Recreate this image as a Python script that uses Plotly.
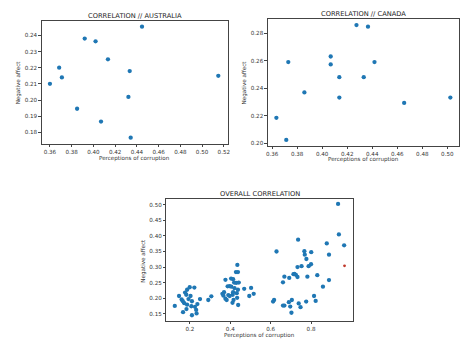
import plotly.graph_objects as go

# ---- data ----
aus_corruption = [0.360, 0.3685, 0.371, 0.385, 0.392, 0.402, 0.407, 0.4134, 0.4322, 0.4334, 0.4343, 0.4447, 0.5149]
aus_negative = [0.210, 0.220, 0.214, 0.1946, 0.238, 0.2363, 0.1867, 0.2252, 0.2019, 0.2179, 0.1767, 0.2454, 0.215]

can_corruption = [0.3634, 0.3713, 0.3729, 0.3858, 0.4068, 0.4068, 0.4137, 0.4137, 0.4274, 0.4366, 0.4332, 0.4418, 0.4655, 0.5024]
can_negative = [0.2185, 0.2024, 0.2591, 0.2370, 0.2632, 0.2574, 0.2481, 0.2333, 0.2861, 0.2849, 0.2481, 0.2591, 0.2294, 0.2333]

all_corruption = [
    0.125, 0.146, 0.159, 0.165, 0.176, 0.182, 0.186, 0.199, 0.203, 0.193, 0.172, 0.186, 0.210,
    0.207, 0.183, 0.166, 0.210, 0.222, 0.225, 0.231, 0.233, 0.237, 0.250, 0.291, 0.306,
    0.376, 0.404, 0.414, 0.428, 0.438, 0.435, 0.419, 0.429, 0.442, 0.387, 0.397, 0.405, 0.421,
    0.438, 0.369, 0.361, 0.366, 0.414, 0.412, 0.390, 0.397, 0.432, 0.376, 0.382, 0.416, 0.434,
    0.439, 0.411, 0.469, 0.503, 0.494, 0.516,
    0.629, 0.612, 0.617, 0.661, 0.668, 0.690, 0.705, 0.703, 0.697, 0.739, 0.748, 0.776, 0.815,
    0.823, 0.661, 0.668, 0.692, 0.713, 0.718, 0.725, 0.733, 0.736, 0.767, 0.769, 0.801, 0.777,
    0.800, 0.788, 0.753, 0.733, 0.782, 0.831, 0.889, 0.859, 0.878, 0.889, 0.934, 0.938, 0.964,
]
all_negative = [
    0.175, 0.207, 0.196, 0.190, 0.218, 0.211, 0.227, 0.235, 0.207, 0.197, 0.184, 0.179, 0.190,
    0.174, 0.165, 0.155, 0.145, 0.234, 0.172, 0.162, 0.151, 0.181, 0.197, 0.194, 0.206,
    0.259, 0.263, 0.261, 0.284, 0.284, 0.307, 0.250, 0.249, 0.250, 0.238, 0.239, 0.237, 0.232,
    0.227, 0.219, 0.214, 0.208, 0.219, 0.211, 0.210, 0.207, 0.216, 0.198, 0.194, 0.194, 0.201,
    0.178, 0.185, 0.230, 0.233, 0.207, 0.214,
    0.350, 0.189, 0.194, 0.176, 0.176, 0.187, 0.194, 0.153, 0.173, 0.183, 0.171, 0.189, 0.207,
    0.191, 0.251, 0.269, 0.265, 0.277, 0.278, 0.275, 0.268, 0.388, 0.351, 0.340, 0.348, 0.326,
    0.309, 0.303, 0.303, 0.300, 0.269, 0.274, 0.258, 0.237, 0.376, 0.340, 0.503, 0.405, 0.370,
]
highlight_corruption = [0.966]
highlight_negative = [0.304]

aus_xticks = [0.36, 0.38, 0.40, 0.42, 0.44, 0.46, 0.48, 0.50, 0.52]
aus_yticks = [0.18, 0.19, 0.20, 0.21, 0.22, 0.23, 0.24]
can_xticks = [0.36, 0.38, 0.40, 0.42, 0.44, 0.46, 0.48, 0.50]
can_yticks = [0.20, 0.22, 0.24, 0.26, 0.28]
all_xticks = [0.2, 0.4, 0.6, 0.8]
all_yticks = [0.15, 0.20, 0.25, 0.30, 0.35, 0.40, 0.45, 0.50]

titles = ["CORRELATION // AUSTRALIA", "CORRELATION // CANADA", "OVERALL CORRELATION"]
xlabel = "Perceptions of corruption"
ylabel = "Negative affect"

W, H = 474, 350
BLUE = "#1f77b4"
FONT = "DejaVu Sans"
TICK_FS = 5.6
TITLE_FS = 6.7

fig = go.Figure()
marker = dict(color=BLUE, size=4.3, line=dict(width=0))
fig.add_trace(go.Scatter(x=aus_corruption, y=aus_negative, mode="markers", marker=marker, xaxis="x", yaxis="y"))
fig.add_trace(go.Scatter(x=can_corruption, y=can_negative, mode="markers", marker=marker, xaxis="x2", yaxis="y2"))
fig.add_trace(go.Scatter(x=all_corruption, y=all_negative, mode="markers", marker=marker, xaxis="x3", yaxis="y3"))
fig.add_trace(go.Scatter(x=highlight_corruption, y=highlight_negative, mode="markers",
                         marker=dict(color="#c0392b", size=2.8, line=dict(width=0)), xaxis="x3", yaxis="y3"))

# pixel boxes: left, right, top, bottom
boxes = [(40, 228, 21, 144), (268, 461, 19.3, 145.7), (165.7, 354, 199.3, 321)]
ranges = [
    ((0.3524, 0.5239), (0.1728, 0.2489)),
    ((0.3565, 0.5094), (0.1982, 0.2903)),
    ((0.083, 1.008), (0.1265, 0.518)),
]
ticks = [(aus_xticks, aus_yticks, ".2f", ".2f"), (can_xticks, can_yticks, ".2f", ".2f"), (all_xticks, all_yticks, ".1f", ".2f")]

def axis_common():
    return dict(showline=True, mirror=True, linecolor="#444", linewidth=0.8, ticks="outside",
                ticklen=2.5, tickwidth=0.8, tickcolor="#444", showgrid=False, zeroline=False,
                tickfont=dict(family=FONT, size=TICK_FS, color="#333"))

layout = {}
annotations = []
for i, ((l, r, t, b), (xr, yr), (xt, yt, xf, yf), title) in enumerate(zip(boxes, ranges, ticks, titles)):
    sfx = "" if i == 0 else str(i + 1)
    xa = axis_common()
    xa.update(domain=[l / W, r / W], range=list(xr), tickvals=xt, tickformat=xf, anchor="y" + sfx)
    ya = axis_common()
    ya.update(domain=[1 - b / H, 1 - t / H], range=list(yr), tickvals=yt, tickformat=yf, anchor="x" + sfx)
    layout["xaxis" + sfx] = xa
    layout["yaxis" + sfx] = ya
    cx = (l + r) / 2
    annotations.append(dict(text=title, x=cx / W, y=1 - (t - 5) / H, xref="paper", yref="paper",
                            xanchor="center", yanchor="middle", showarrow=False,
                            font=dict(family=FONT, size=TITLE_FS, color="#222")))
    annotations.append(dict(text=xlabel, x=cx / W, y=1 - (b + 14) / H, xref="paper", yref="paper",
                            xanchor="center", yanchor="middle", showarrow=False,
                            font=dict(family=FONT, size=TICK_FS, color="#333")))
    annotations.append(dict(text=ylabel, x=(l - 23) / W, y=1 - ((t + b) / 2) / H, xref="paper", yref="paper",
                            xanchor="center", yanchor="middle", showarrow=False, textangle=-90,
                            font=dict(family=FONT, size=TICK_FS, color="#333")))

fig.update_layout(width=W, height=H, margin=dict(l=0, r=0, t=0, b=0), showlegend=False,
                  paper_bgcolor="white", plot_bgcolor="white", annotations=annotations, **layout)
fig.write_html("out.html")
